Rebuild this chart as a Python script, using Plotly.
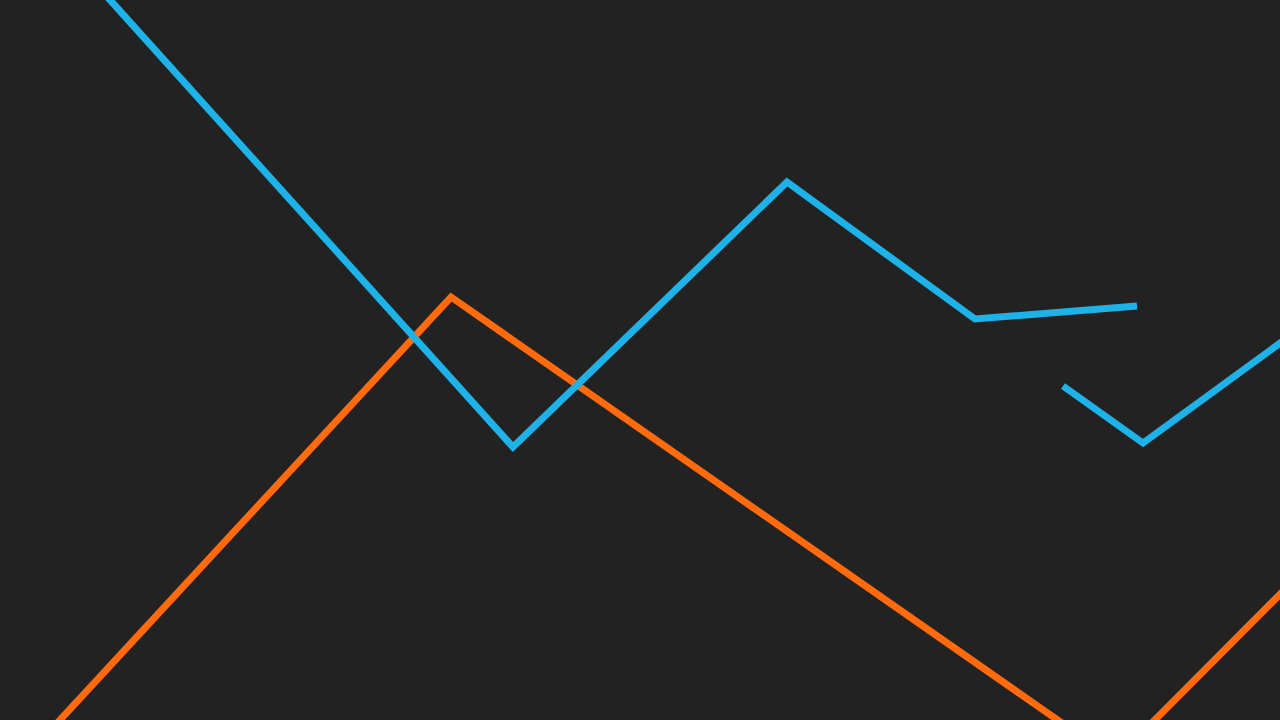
import plotly.graph_objects as go

# values (x across, y up); points past the frame are
# where the lines run out of view
blue_x = [74, 513, 787, 975, 1137, None, 1063, 1143, 1320]
blue_y = [760, 273, 538, 401, 414, None, 334, 277, 406]

orange_x = [23, 451, 1115, 1320]
orange_y = [-40, 423, -40, 166]

bg = "#222222"

fig = go.Figure()

fig.add_trace(go.Scatter(
    x=orange_x, y=orange_y,
    mode="lines",
    line=dict(color="#ff6a0d", width=7),
    hoverinfo="skip",
    showlegend=False,
))

fig.add_trace(go.Scatter(
    x=blue_x, y=blue_y,
    mode="lines",
    line=dict(color="#1db3e9", width=7),
    connectgaps=False,
    hoverinfo="skip",
    showlegend=False,
))

fig.update_layout(
    width=1280, height=720,
    margin=dict(l=0, r=0, t=0, b=0),
    paper_bgcolor=bg,
    plot_bgcolor=bg,
    xaxis=dict(range=[0, 1280], visible=False, fixedrange=True),
    yaxis=dict(range=[0, 720], visible=False, fixedrange=True),
)

fig.write_html(
    "out.html",
    config={"displayModeBar": False, "staticPlot": True},
    post_script="document.body.style.margin='0';document.body.style.background='%s';" % bg,
)
